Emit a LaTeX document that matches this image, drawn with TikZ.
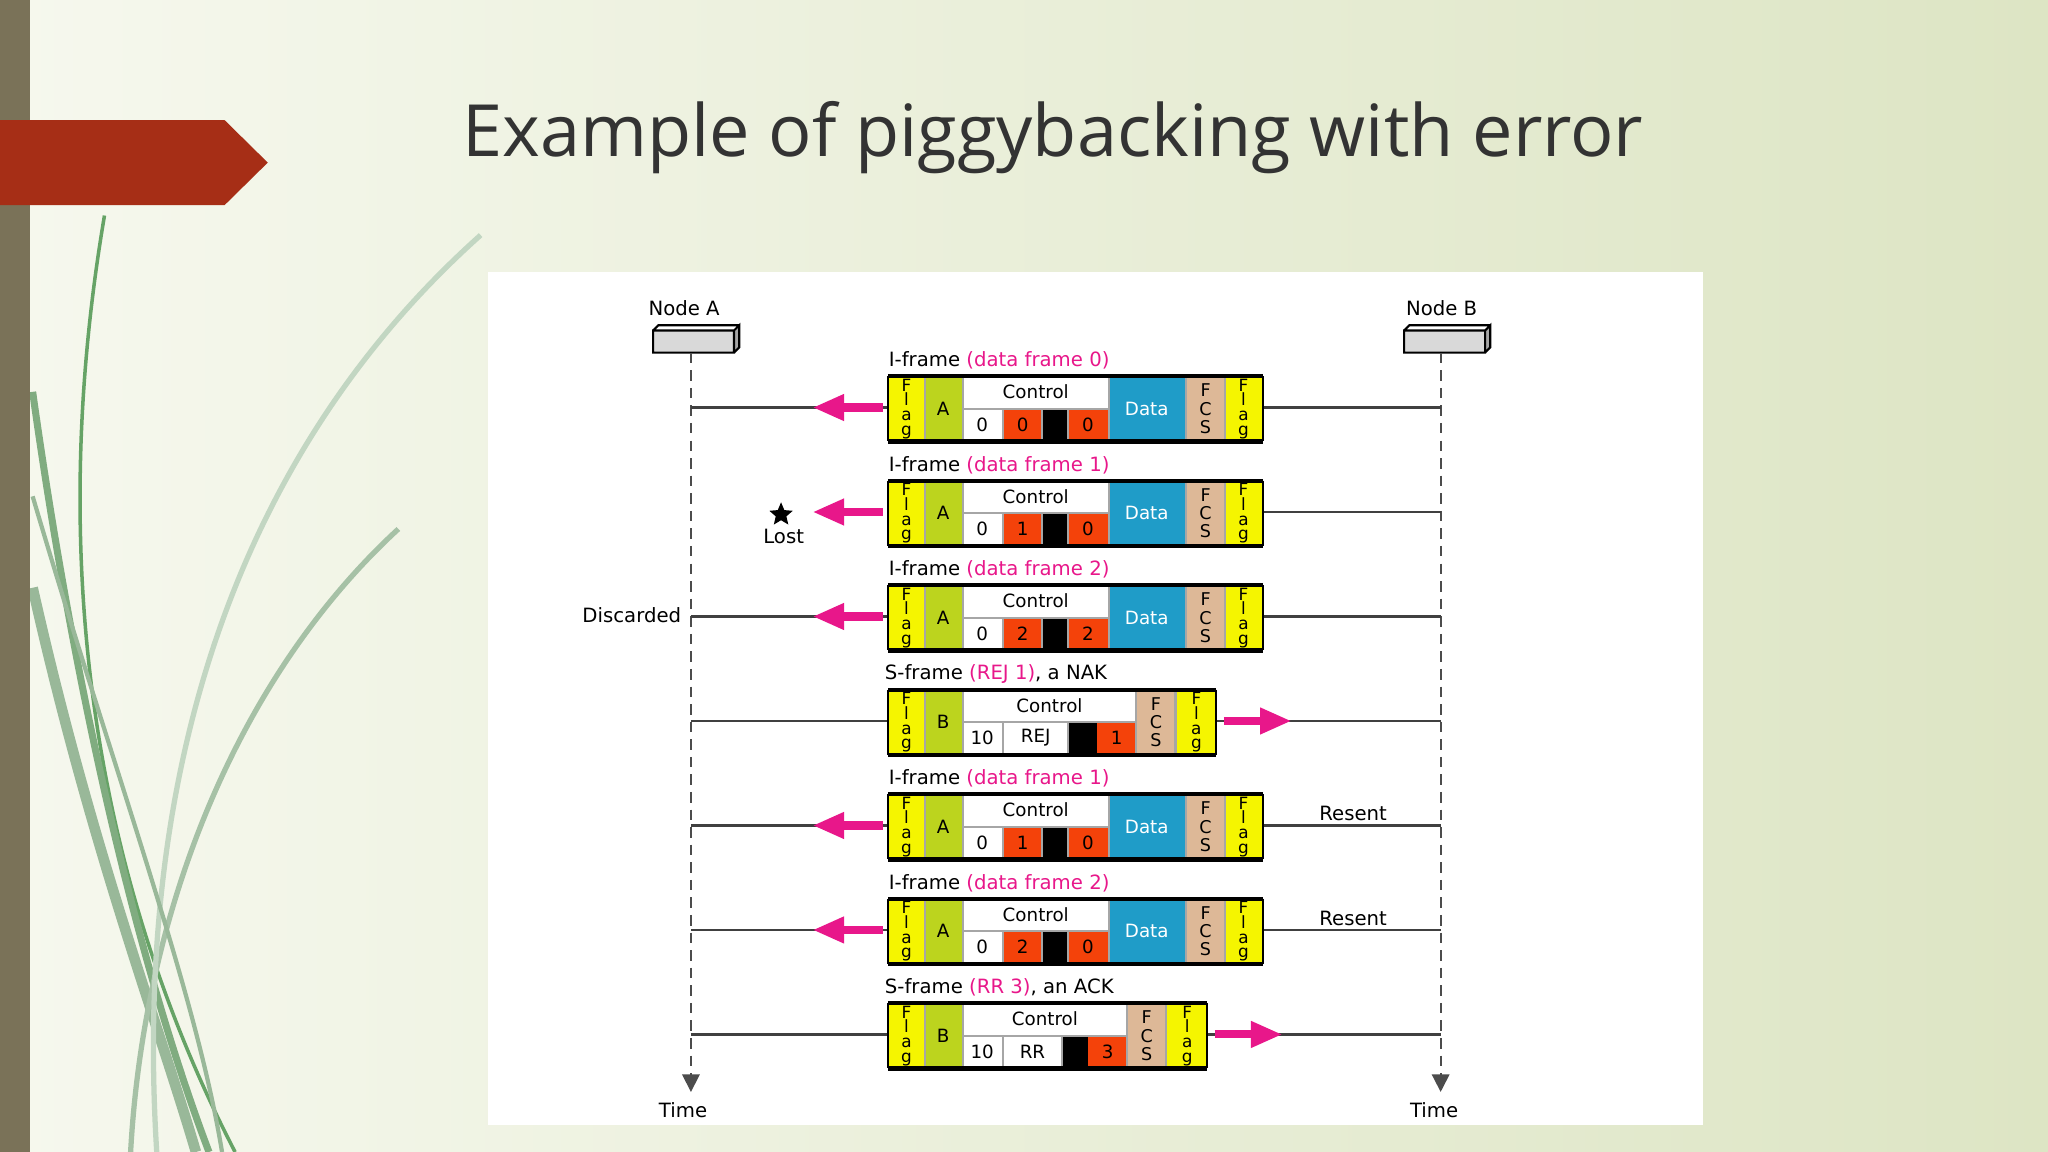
\documentclass[tikz,border=0pt]{standalone}
\usepackage{fontspec}
\setmainfont{Open Sans}
\newfontfamily\dia{DejaVu Sans}
\usetikzlibrary{shapes.geometric,arrows.meta}
\definecolor{fy}{HTML}{F5F500}
\definecolor{fa}{HTML}{BCD41E}
\definecolor{fr}{HTML}{F4420A}
\definecolor{fd}{HTML}{1F9CC8}
\definecolor{ff}{HTML}{DDB897}
\definecolor{mg}{HTML}{E8178A}
\definecolor{bgl}{HTML}{F6F8EE}
\definecolor{bgd}{HTML}{DDE5C4}
\definecolor{barc}{HTML}{7A7258}
\tikzset{
 cell/.style={draw=gray!70,line width=0.6pt},
 txt/.style={font=\dia\fontsize{5.2}{5.5}\selectfont},
 vtx/.style={font=\dia\fontsize{4.8}{4.2}\selectfont,align=center,inner sep=0},
 vtxc/.style={font=\dia\fontsize{5}{5.2}\selectfont,align=center,inner sep=0},
 lbl/.style={font=\dia\fontsize{5.6}{6}\selectfont,anchor=west,inner sep=0},
 pk/.style={-{Triangle[length=9,width=7]},line width=2.3pt,draw=mg},
 life/.style={densely dashed,line width=0.5pt,gray!60!black},
 wire/.style={line width=0.6pt,black!75},
}
\newcommand{\ifr}[4]{%
 \fill[fy] (680,#1) rectangle (708,#1+50);
 \fill[fa] (708,#1) rectangle (737,#1+50);
 \fill[white] (737,#1) rectangle (849,#1+25);
 \fill[white] (737,#1+25) rectangle (768,#1+50);
 \fill[fr] (768,#1+25) rectangle (798,#1+50);
 \fill[black] (798,#1+25) rectangle (818,#1+50);
 \fill[fr] (818,#1+25) rectangle (849,#1+50);
 \fill[fd] (849,#1) rectangle (908,#1+50);
 \fill[ff] (908,#1) rectangle (938,#1+50);
 \fill[fy] (938,#1) rectangle (967,#1+50);
 \draw[cell] (708,#1)--(708,#1+50) (737,#1)--(737,#1+50) (849,#1)--(849,#1+50) (908,#1)--(908,#1+50) (938,#1)--(938,#1+50) (737,#1+25)--(849,#1+25) (768,#1+25)--(768,#1+50) (798,#1+25)--(798,#1+50) (818,#1+25)--(818,#1+50);
 \draw[line width=1.2pt] (680,#1)--(967,#1) (680,#1+50)--(967,#1+50);
 \draw[line width=0.6pt] (680,#1)--(680,#1+50) (967,#1)--(967,#1+50);
 \node[vtx] at (694,#1+25) {F\\l\\a\\g};
 \node[txt] at (722,#1+25) {A};
 \node[txt] at (793,#1+12) {Control};
 \node[txt] at (752,#1+37) {#2};
 \node[txt] at (783,#1+37) {#3};
 \node[txt] at (833,#1+37) {#4};
 \node[txt,white] at (878,#1+25) {Data};
 \node[vtxc] at (923,#1+25) {F\\C\\S};
 \node[vtx] at (952,#1+25) {F\\l\\a\\g};
}
\newcommand{\sfr}[6]{%
 \fill[fy] (680,#1) rectangle (708,#1+50);
 \fill[fa] (708,#1) rectangle (737,#1+50);
 \fill[white] (737,#1) rectangle (#4,#1+50);
 \fill[black] (#5,#1+25) rectangle (#6,#1+50);
 \fill[fr] (#6,#1+25) rectangle (#4,#1+50);
 \fill[ff] (#4,#1) rectangle (#4+30,#1+50);
 \fill[fy] (#4+30,#1) rectangle (#4+61,#1+50);
 \draw[cell] (708,#1)--(708,#1+50) (737,#1)--(737,#1+50) (#4,#1)--(#4,#1+50) (#4+30,#1)--(#4+30,#1+50) (737,#1+25)--(#4,#1+25) (768,#1+25)--(768,#1+50) (#5,#1+25)--(#5,#1+50);
 \draw[line width=1.2pt] (680,#1)--(#4+61,#1) (680,#1+50)--(#4+61,#1+50);
 \draw[line width=0.6pt] (680,#1)--(680,#1+50) (#4+61,#1)--(#4+61,#1+50);
 \node[vtx] at (694,#1+25) {F\\l\\a\\g};
 \node[txt] at (722,#1+25) {B};
 \node[txt] at ({(737+#4)/2},#1+12) {Control};
 \node[txt] at (752,#1+37) {10};
 \node[txt] at ({(768+#5)/2},#1+37) {#2};
 \node[txt] at ({(#6+#4)/2},#1+37) {#3};
 \node[vtxc] at (#4+15,#1+25) {F\\C\\S};
 \node[vtx] at (#4+46,#1+25) {F\\l\\a\\g};
}
\begin{document}
\begin{tikzpicture}[x=0.013061cm,y=-0.013061cm]
\useasboundingbox (0,0) rectangle (1568,882);
\shade[left color=bgl,right color=bgd] (0,0) rectangle (1568,882);
\begin{scope}[line width=1pt]
\draw[green!40!black!60] (80,165) .. controls (40,400) and (60,650) .. (180,882);
\draw[green!35!black!50,line width=2pt] (25,300) .. controls (60,550) and (110,750) .. (160,882);
\draw[green!30!black!40,line width=3pt] (25,450) .. controls (70,650) and (120,780) .. (150,882);
\draw[green!30!black!35,line width=1.5pt] (305,405) .. controls (180,520) and (110,700) .. (100,882);
\draw[green!20!gray!40,line width=1.5pt] (368,180) .. controls (200,330) and (100,560) .. (120,882);
\draw[green!30!black!40,line width=1.2pt] (25,380) .. controls (90,600) and (150,760) .. (170,882);
\end{scope}
\fill[barc] (0,0) rectangle (23,882);
\fill[fill={rgb,255:red,166;green,46;blue,22}] (0,92) -- (172,92) -- (205,124.5) -- (172,157) -- (0,157) -- cycle;
\node[font=\fontsize{20.5}{24}\selectfont,text=black!80] (title) at (806,105) {Example of piggybacking with error};
\fill[white] (374,208) rectangle (1304,861);
\node[lbl] (nA) at (496,236) {Node A};
\node[lbl] (nB) at (1076,236) {Node B};
\fill[black!15] (500,253) rectangle (562,270);
\fill[black!35] (562,253)--(566,249)--(566,266)--(562,270)--cycle;
\draw[line width=0.6pt] (500,253) rectangle (562,270) (562,253)--(566,249)--(566,266)--(562,270) (500,253)--(504,249)--(566,249);
\fill[black!15] (1075,253) rectangle (1137,270);
\fill[black!35] (1137,253)--(1141,249)--(1141,266)--(1137,270)--cycle;
\draw[line width=0.6pt] (1075,253) rectangle (1137,270) (1137,253)--(1141,249)--(1141,266)--(1137,270) (1075,253)--(1079,249)--(1141,249);
\coordinate (a0) at (529,270); \coordinate (a1) at (529,836);
\coordinate (b0) at (1103,270); \coordinate (b1) at (1103,836);
\draw[life,-{Triangle[length=5,width=5]}] (a0)--(a1);
\draw[life,-{Triangle[length=5,width=5]}] (b0)--(b1);
\node[lbl] at (504,850) {Time};
\node[lbl] at (1079,850) {Time};
\node[lbl] at (680,276) {I-frame \textcolor{mg}{(data frame 0)}};
\node[lbl] at (680,356) {I-frame \textcolor{mg}{(data frame 1)}};
\node[lbl] at (680,436) {I-frame \textcolor{mg}{(data frame 2)}};
\node[lbl] at (677,516) {S-frame \textcolor{mg}{(REJ 1)}, a NAK};
\node[lbl] at (680,596) {I-frame \textcolor{mg}{(data frame 1)}};
\node[lbl] at (680,676) {I-frame \textcolor{mg}{(data frame 2)}};
\node[lbl] at (677,756) {S-frame \textcolor{mg}{(RR 3)}, an ACK};
\draw[wire] (529,312)--(680,312) (967,312)--(1103,312);
\draw[wire] (967,392)--(1103,392);
\draw[wire] (529,472)--(680,472) (967,472)--(1103,472);
\draw[wire] (529,552)--(680,552) (931,552)--(1103,552);
\draw[wire] (529,632)--(680,632) (967,632)--(1103,632);
\draw[wire] (529,712)--(680,712) (967,712)--(1103,712);
\draw[wire] (529,792)--(680,792) (924,792)--(1103,792);
\ifr{288}{0}{0}{0}
\ifr{368}{0}{1}{0}
\ifr{448}{0}{2}{2}
\sfr{528}{REJ}{1}{870}{818}{840}
\ifr{608}{0}{1}{0}
\ifr{688}{0}{2}{0}
\sfr{768}{RR}{3}{863}{813}{833}
\draw[pk] (676,312)--(622,312);
\draw[pk] (676,392)--(622,392);
\draw[pk] (676,472)--(622,472);
\draw[pk] (937,552)--(989,552);
\draw[pk] (676,632)--(622,632);
\draw[pk] (676,712)--(622,712);
\draw[pk] (930,792)--(982,792);
\node[star,star points=5,star point ratio=2.2,fill=black,inner sep=0,minimum size=7pt] (lost) at (598,394) {};
\node[lbl,anchor=center] at (600,411) {Lost};
\node[lbl,anchor=east] at (522,471) {Discarded};
\node[lbl,anchor=center] at (1036,623) {Resent};
\node[lbl,anchor=center] at (1036,703) {Resent};
\end{tikzpicture}
\end{document}
